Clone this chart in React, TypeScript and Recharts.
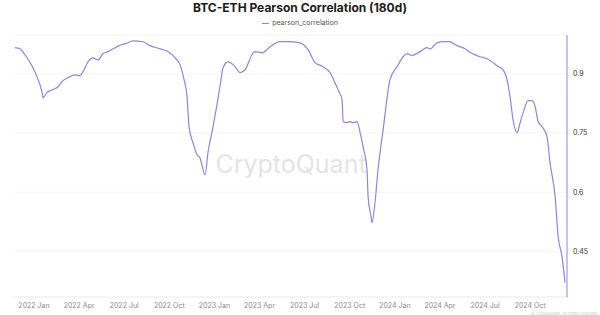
import React from "react";
import { LineChart, Line, XAxis, YAxis, CartesianGrid } from "recharts";

// months since 2022 Jan (fractional)
const monthOffsets: number[] = [
  -1.26, -0.93, -0.6, -0.07, 0.27, 0.53, 0.6, 0.86, 1.26, 1.6, 1.86, 2.26, 2.73, 3.06, 3.26, 3.59, 3.92, 4.26, 4.59, 4.92, 5.26, 5.65,
  6.1, 6.59, 7.25, 7.72, 8.38, 8.91, 9.38, 9.71, 9.98, 10.18, 10.31, 10.58, 10.84, 11.04, 11.38, 11.57, 11.91, 12.17, 12.44, 12.57, 12.91,
  13.37, 13.7, 14.04, 14.5, 14.7, 15.17, 15.7, 16.36, 16.9, 17.69, 18.23, 18.69, 19.22, 19.69, 20.02, 20.29,
  20.49, 20.56, 20.82, 21.02, 21.22, 21.49, 21.69, 21.89, 22.15, 22.22, 22.42, 22.48, 22.68, 22.88, 23.22, 23.68, 24.15, 24.55, 24.81, 25.14, 25.68, 26.14, 26.34, 26.81, 27.21, 27.61,
  28.14, 28.67, 29.14, 29.67, 30.13, 30.47, 30.87, 31.2, 31.46, 31.66, 31.86, 32.13, 32.33, 32.53, 32.86, 33.13, 33.33, 33.53, 33.79, 34.12, 34.32, 34.66, 34.86, 35.12, 35.32,
];

const correlation: number[] = [
  0.966, 0.963, 0.948, 0.915, 0.885, 0.854, 0.839, 0.852, 0.86, 0.867, 0.88, 0.89, 0.897, 0.895, 0.905, 0.93, 0.94, 0.935, 0.951, 0.956, 0.963, 0.971,
  0.976, 0.983, 0.981, 0.971, 0.963, 0.956, 0.94, 0.923, 0.885, 0.842, 0.766, 0.725, 0.695, 0.687, 0.644, 0.7, 0.766, 0.822, 0.885, 0.915, 0.93,
  0.918, 0.903, 0.91, 0.948, 0.956, 0.953, 0.968, 0.981, 0.981, 0.978, 0.961, 0.928, 0.918, 0.903, 0.877, 0.854,
  0.834, 0.779, 0.776, 0.779, 0.776, 0.779, 0.751, 0.715, 0.657, 0.589, 0.538, 0.523, 0.574, 0.657, 0.758, 0.885, 0.918, 0.943, 0.951, 0.946, 0.956, 0.966, 0.963, 0.978, 0.981, 0.981,
  0.971, 0.963, 0.951, 0.943, 0.938, 0.93, 0.918, 0.91, 0.885, 0.842, 0.784, 0.751, 0.776, 0.801, 0.832, 0.832, 0.817, 0.779, 0.766, 0.741, 0.675, 0.589, 0.488, 0.437, 0.371,
];

const tickMonths: number[] = [0, 3, 6, 9, 12, 15, 18, 21, 24, 27, 30, 33];
const tickLabels: string[] = [
  "2022 Jan", "2022 Apr", "2022 Jul", "2022 Oct",
  "2023 Jan", "2023 Apr", "2023 Jul", "2023 Oct",
  "2024 Jan", "2024 Apr", "2024 Jul", "2024 Oct",
];
const yTicks: number[] = [0.45, 0.6, 0.75, 0.9];

const data = monthOffsets.map((m, i) => ({ m, pearson_correlation: correlation[i] }));

const LINE = "#8a86e4";
const FONT = "Inter, 'Noto Sans', sans-serif";

export default function App() {
  return (
    <div style={{ position: "absolute", left: 0, top: 0, width: 600, height: 315, background: "#fff", fontFamily: FONT }}>
      <div
        style={{
          position: "absolute", left: 0, top: 0, width: 600, textAlign: "center",
          fontSize: 12, fontWeight: 700, color: "#1b1b1b", lineHeight: "15px",
        }}
      >
        BTC-ETH Pearson Correlation (180d)
      </div>
      <div
        style={{
          position: "absolute", left: 0, top: 18, width: 600, display: "flex", justifyContent: "center",
          alignItems: "center", fontSize: 7, color: "#555", lineHeight: "10px",
        }}
      >
        <span style={{ display: "inline-block", width: 7, height: 1, background: LINE, marginRight: 3 }} />
        <span>pearson_correlation</span>
      </div>
      <LineChart
        width={600}
        height={315}
        data={data}
        margin={{ top: 35, right: 0, bottom: 0, left: 14 }}
        style={{ position: "absolute", left: 0, top: 0 }}
      >
        <CartesianGrid vertical={false} stroke="#f3f3f3" strokeWidth={0.8} />
        <text
          x={291}
          y={173}
          textAnchor="middle"
          fontSize={25}
          fontFamily={FONT}
          fill="#e4e4e4"
        >
          CryptoQuant
        </text>
        <XAxis
          dataKey="m"
          type="number"
          domain={[-1.33, 35.45]}
          ticks={tickMonths}
          tickFormatter={(v: number) => tickLabels[tickMonths.indexOf(v)] ?? ""}
          height={18}
          axisLine={{ stroke: "#eeeeee" }}
          tickLine={false}
          tickSize={4}
          tickMargin={2}
          tick={{ fontSize: 7, fill: "#8a8a8a", fontFamily: FONT }}
          interval={0}
          allowDataOverflow
        />
        <YAxis
          orientation="right"
          domain={[0.335, 0.998]}
          ticks={yTicks}
          width={33}
          axisLine={{ stroke: LINE }}
          tickLine={false}
          tickSize={4}
          tickMargin={2}
          tick={{ fontSize: 7, fill: "#333", fontFamily: FONT, textAnchor: "start" }}
          allowDataOverflow
        />
        <Line
          type="monotone"
          dataKey="pearson_correlation"
          stroke={LINE}
          strokeWidth={1.2}
          dot={false}
          isAnimationActive={false}
        />
        <text x={598} y={315} textAnchor="end" fontSize={4} fontFamily={FONT} fill="#c8c8c8">
          © CryptoQuant. All rights reserved.
        </text>
      </LineChart>
    </div>
  );
}
